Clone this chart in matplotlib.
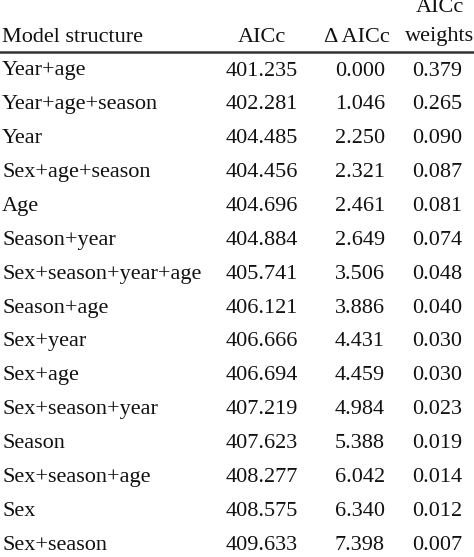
import matplotlib
matplotlib.use("Agg")
import matplotlib.pyplot as plt

models = ["Year+age","Year+age+season","Year","Sex+age+season","Age","Season+year",
          "Sex+season+year+age","Season+age","Sex+year","Sex+age","Sex+season+year",
          "Season","Sex+season+age","Sex","Sex+season"]
aicc = ["401.235","402.281","404.485","404.456","404.696","404.884","405.741","406.121",
        "406.666","406.694","407.219","407.623","408.277","408.575","409.633"]
daicc = ["0.000","1.046","2.250","2.321","2.461","2.649","3.506","3.886","4.431","4.459",
         "4.984","5.388","6.042","6.340","7.398"]
weights = ["0.379","0.265","0.090","0.087","0.081","0.074","0.048","0.040","0.030","0.030",
           "0.023","0.019","0.014","0.012","0.007"]

W, H = 474, 557
fig = plt.figure(figsize=(W/100, H/100), dpi=100)
ax = fig.add_axes([0, 0, 1, 1])
ax.set_xlim(0, W); ax.set_ylim(H, 0); ax.axis("off")
fs = 16
kw = dict(fontsize=fs, family="Liberation Serif", va="center", color="#111111")
ax.text(2, 37, "Model structure", ha="left", **kw)
ax.text(262, 37, "AICc", ha="center", **kw)
ax.text(357, 37, "Δ AICc", ha="center", **kw)
ax.text(440, 8, "AICc", ha="center", **kw)
ax.text(440, 37, "weights", ha="center", **kw)
ax.plot([0, W], [52, 52], color="#333333", lw=1.8)
for i in range(len(models)):
    y = 71 + i*33.86
    ax.text(2, y, models[i], ha="left", **kw)
    ax.text(262, y, aicc[i], ha="center", **kw)
    ax.text(360, y, daicc[i], ha="center", **kw)
    ax.text(437, y, weights[i], ha="center", **kw)
fig.savefig("out.png", dpi=100)
